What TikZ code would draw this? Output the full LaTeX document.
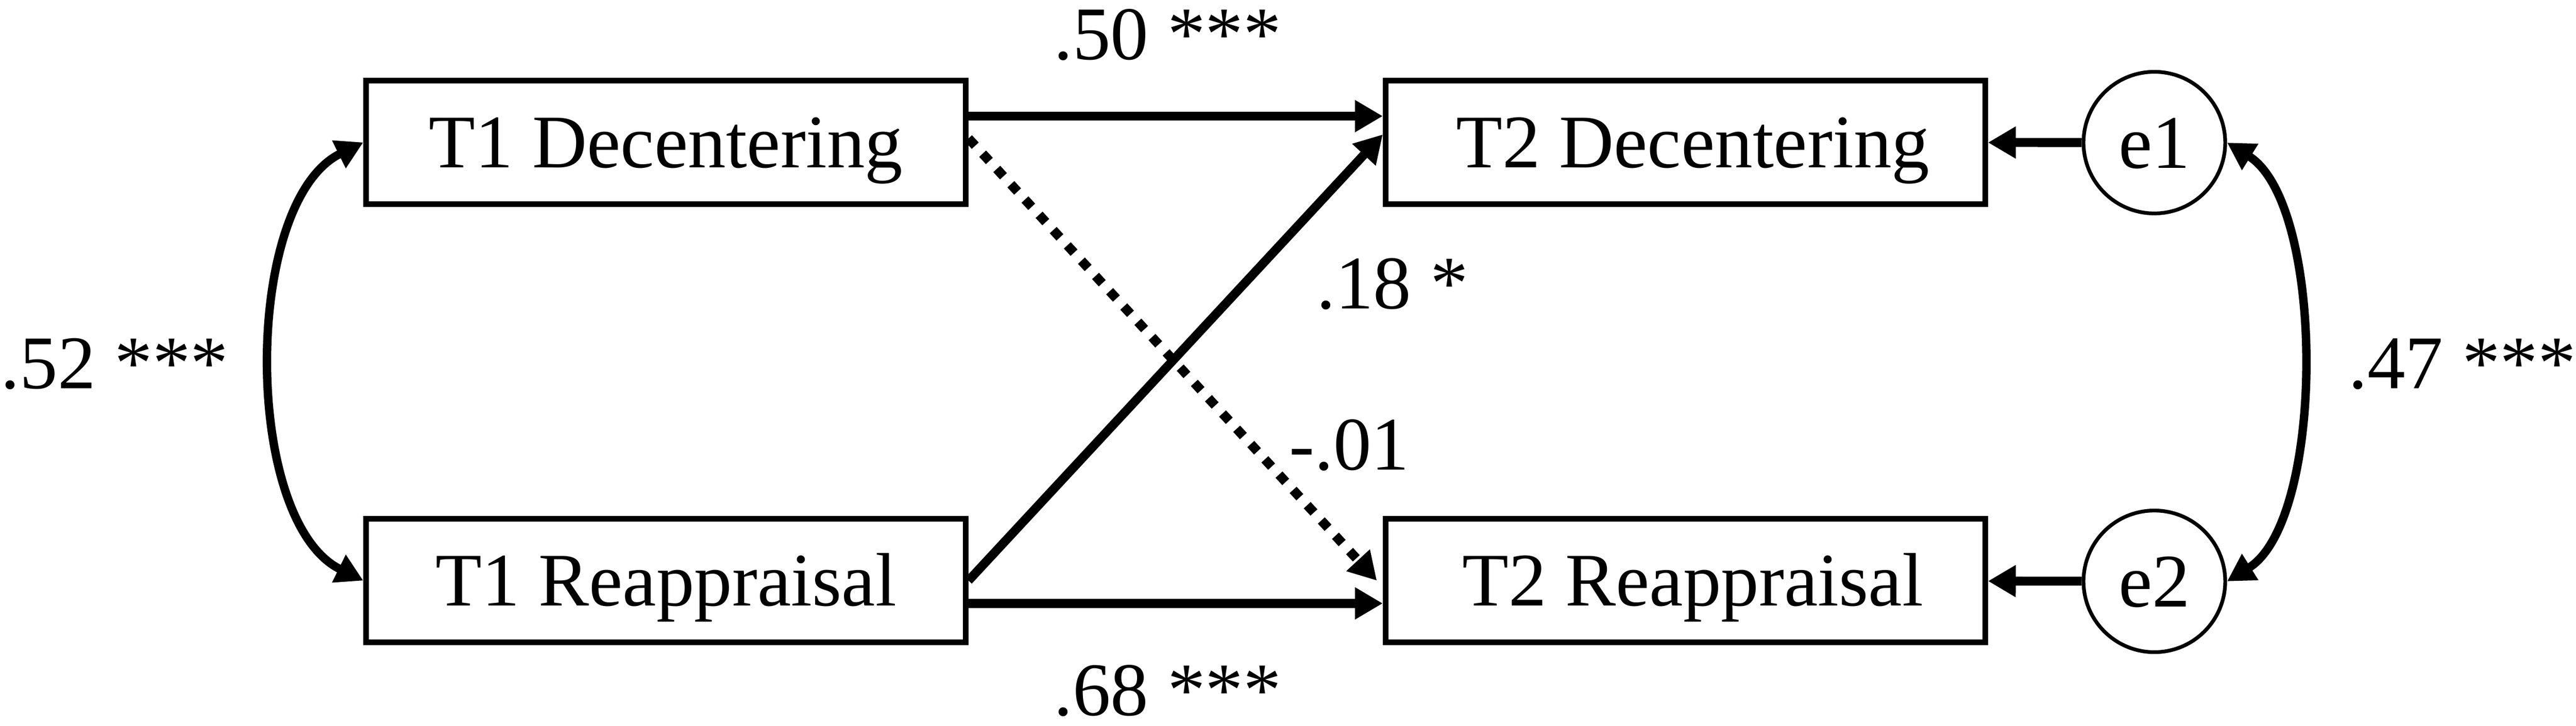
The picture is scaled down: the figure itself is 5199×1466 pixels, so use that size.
\documentclass[tikz,border=0pt]{standalone}
\usepackage{fontspec}
\setmainfont{Liberation Serif}
\usetikzlibrary{arrows.meta,calc}
\begin{document}
\begin{tikzpicture}[x=0.1pt,y=-0.1pt,
  font=\fontsize{15.3pt}{18pt}\selectfont,
  varbox/.style={draw,line width=1.15pt,minimum width=121pt,minimum height=24.9pt,inner sep=0pt,text height=10.1pt,text depth=0pt},
  errnode/.style={draw,circle,line width=0.75pt,minimum size=28.6pt,inner sep=0pt,text height=10.2pt,text depth=0pt},
  arr/.style={line width=1.8pt,-{Triangle[length=5.6pt,width=6.1pt]}},
  dotline/.style={line width=1.9pt,dash pattern=on 2.0pt off 2.2pt},
  cov/.style={line width=1.7pt,{Triangle[length=5.5pt,width=5.9pt]}-{Triangle[length=5.5pt,width=5.9pt]}},
  coef/.style={anchor=base west,inner sep=0pt,text depth=0pt}
]
\useasboundingbox (0,0) rectangle (5199,1466);
\node[varbox] (T1D) at (1344,287.5) {T1 Decentering};
\node[varbox] (T1R) at (1344,1172.5) {T1 Reappraisal};
\node[varbox] (T2D) at (3401.5,287.5) {\hspace*{3pt}T2 Decentering};
\node[varbox] (T2R) at (3401.5,1172.5) {\hspace*{3pt}T2 Reappraisal};
\node[errnode] (e1) at (4348,288) {e1};
\node[errnode] (e2) at (4348,1174) {e2};

\draw[arr] ([yshift=5.3pt]T1D.east) -- ([yshift=5.3pt]T2D.west);
\draw[arr] ([yshift=-4.6pt]T1R.east) -- ([yshift=-4.6pt]T2R.west);
\draw[arr] (T1R.east) -- ([yshift=1.6pt]T2D.west);
\draw[arr,dotline] ([yshift=0.8pt]T1D.east) -- ([xshift=-1.2pt]T2R.west);
\draw[arr] (e1) -- (T2D);
\draw[arr] (e2) -- (T2R);
\draw[cov] (T1D.west) .. controls ($(T1D.west)+(-244,120)$) and ($(T1R.west)+(-244,-120)$) .. (T1R.west);
\draw[cov] (e1.east) .. controls ($(e1.east)+(199,124)$) and ($(e2.east)+(199,-124)$) .. (e2.east);

\node[coef] (l50) at (2125,120) {.50 ***};
\node[coef] (l68) at (2125,1445) {.68 ***};
\node[coef] (l18) at (2655,623) {.18 *};
\node[coef] (l01) at (2600,949) {-.01};
\node[coef] (l52) at (0,785) {.52 ***};
\node[coef] (l47) at (4738,785) {.47 ***};
\end{tikzpicture}
\end{document}
